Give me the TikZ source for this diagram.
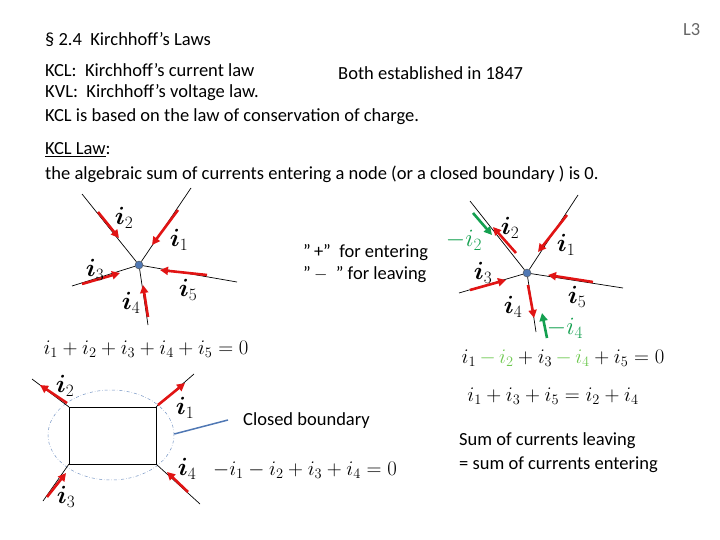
\documentclass[tikz,border=0pt]{standalone}
\usepackage{amsmath,amssymb}
\usepackage{fontspec}
\setmainfont{Carlito}
\usetikzlibrary{arrows.meta,shapes.geometric}
\definecolor{arrred}{RGB}{225,20,20}
\definecolor{arrgreen}{RGB}{20,160,80}
\definecolor{eqgreen}{RGB}{110,200,80}
\definecolor{dotblue}{RGB}{80,120,180}
\tikzset{
  wire/.style={black,line width=0.7pt},
  cur/.style={arrred,line width=2.6pt,-{Triangle[length=8pt,width=8pt]}},
  gcur/.style={arrgreen,line width=2.6pt,-{Triangle[length=8pt,width=8pt]}},
  lbl/.style={font=\fontsize{23}{23}\selectfont,inner sep=0pt},
  txt/.style={font=\fontsize{18.5}{20}\selectfont,anchor=west,inner sep=0pt},
  eq/.style={font=\fontsize{19.5}{20}\selectfont,inner sep=0pt},
  junc/.style={circle,fill=dotblue,draw=black!70,line width=0.4pt,inner sep=0pt,minimum size=8pt}
}
\newcommand{\bi}{\boldsymbol{i}}
\begin{document}
\begin{tikzpicture}[x=1pt,y=-1pt]
\useasboundingbox (0,0) rectangle (720,540);
% header
\node[txt] (title) at (45,40) {§ 2.4\ \ Kirchhoff’s Laws};
\node[txt,text=black!60] (pg) at (683,30) {L3};
\node[txt] (t1) at (45,70) {KCL:\ \ Kirchhoff’s current law};
\node[txt] (t2) at (338,73) {Both established in 1847};
\node[txt] (t3) at (45,93) {KVL:\ \ Kirchhoff’s voltage law.};
\node[txt] (t4) at (45,117) {KCL is based on the law of conservation of charge.};
\node[txt] (t5) at (45,150) {\underline{KCL Law}:};
\node[txt] (t6) at (45,174) {the algebraic sum of currents entering a node (or a closed boundary ) is 0.};
% left node
\coordinate (La) at (82,194); \coordinate (Lb) at (191,188); \coordinate (Lc) at (72,286);
\coordinate (Ld) at (237,282); \coordinate (Le) at (148,325);
\node[junc] (L) at (139,265) {};
\foreach \p in {La,Lb,Lc,Ld,Le} \draw[wire] (L) -- (\p);
\coordinate (l2s) at (98,212); \coordinate (l2e) at (119,238);
\coordinate (l1s) at (178,210); \coordinate (l1e) at (152,245);
\coordinate (l3s) at (82,284); \coordinate (l3e) at (120,273);
\coordinate (l5s) at (207,275); \coordinate (l5e) at (160,270);
\coordinate (l4s) at (148,317); \coordinate (l4e) at (143,285);
\draw[cur] (l2s) -- (l2e); \draw[cur] (l1s) -- (l1e); \draw[cur] (l3s) -- (l3e);
\draw[cur] (l5s) -- (l5e); \draw[cur] (l4s) -- (l4e);
\node[lbl] (Li2) at (124,218) {$\bi_2$};
\node[lbl] (Li1) at (179,240) {$\bi_1$};
\node[lbl] (Li3) at (95,270) {$\bi_3$};
\node[lbl] (Li5) at (188,290) {$\bi_5$};
\node[lbl] (Li4) at (131,303) {$\bi_4$};
\node[eq] (Leq) at (146,349) {$i_1+i_2+i_3+i_4+i_5=0$};
\node[txt] (s1) at (303,253) {"\,+"\ \ for entering};
\node[txt] (s2) at (303,275) {"\,$-$\ \ " for leaving};
% right node
\coordinate (Ra) at (470,201); \coordinate (Rb) at (578,195); \coordinate (Rc) at (459,293);
\coordinate (Rd) at (623,288); \coordinate (Re) at (536,332);
\node[junc] (R) at (527,273) {};
\foreach \p in {Ra,Rb,Rc,Rd,Re} \draw[wire] (R) -- (\p);
\coordinate (r2s) at (516,253); \coordinate (r2e) at (493,227);
\coordinate (r1s) at (567,215); \coordinate (r1e) at (538,252);
\coordinate (r3s) at (470,290); \coordinate (r3e) at (506,280);
\coordinate (r5s) at (593,282); \coordinate (r5e) at (548,275);
\coordinate (r4s) at (528,285); \coordinate (r4e) at (534,318);
\coordinate (g2s) at (473,213); \coordinate (g2e) at (492,235);
\coordinate (g4s) at (547,338); \coordinate (g4e) at (542,313);
\draw[cur] (r2s) -- (r2e); \draw[cur] (r1s) -- (r1e); \draw[cur] (r3s) -- (r3e);
\draw[cur] (r5s) -- (r5e); \draw[cur] (r4s) -- (r4e);
\draw[gcur] (g2s) -- (g2e); \draw[gcur] (g4s) -- (g4e);
\node[lbl] (Ri2) at (510,228) {$\bi_2$};
\node[lbl,text=arrgreen] (Rg2) at (464,240) {$-i_2$};
\node[lbl] (Ri1) at (566,245) {$\bi_1$};
\node[lbl] (Ri3) at (483,273) {$\bi_3$};
\node[lbl] (Ri5) at (577,297) {$\bi_5$};
\node[lbl] (Ri4) at (513,307) {$\bi_4$};
\node[lbl,text=arrgreen] (Rg4) at (565,328) {$-i_4$};
\node[eq] (Req1) at (563,358) {$i_1\,\textcolor{eqgreen}{-\,i_2}+i_3\,\textcolor{eqgreen}{-\,i_4}+i_5=0$};
\node[eq] (Req2) at (553,396) {$i_1+i_3+i_5=i_2+i_4$};
% closed boundary
\coordinate (B1) at (69,407); \coordinate (B2) at (156,407);
\coordinate (B3) at (156,464); \coordinate (B4) at (69,464);
\draw[wire] (B1) -- (B2) -- (B3) -- (B4) -- cycle;
\node[draw=dotblue!80,dash dot,line width=0.5pt,ellipse,minimum width=126pt,minimum height=90pt,inner sep=0pt] (E) at (111,435) {};
\coordinate (Ba) at (32,379); \coordinate (Bb) at (194,374); \coordinate (Bc) at (43,501); \coordinate (Bd) at (200,504);
\draw[wire] (B1) -- (Ba); \draw[wire] (B2) -- (Bb); \draw[wire] (B4) -- (Bc); \draw[wire] (B3) -- (Bd);
\coordinate (b2s) at (67,403); \coordinate (b2e) at (40,385);
\coordinate (b1s) at (158,405); \coordinate (b1e) at (185,383);
\coordinate (b3s) at (47,497); \coordinate (b3e) at (66,473);
\coordinate (b4s) at (188,492); \coordinate (b4e) at (167,472);
\draw[cur] (b2s) -- (b2e); \draw[cur] (b1s) -- (b1e); \draw[cur] (b3s) -- (b3e); \draw[cur] (b4s) -- (b4e);
\node[lbl] (Bi2) at (65,386) {$\bi_2$};
\node[lbl] (Bi1) at (185,408) {$\bi_1$};
\node[lbl] (Bi3) at (66,497) {$\bi_3$};
\node[lbl] (Bi4) at (187,469) {$\bi_4$};
\node[txt] (cb) at (243,421) {Closed boundary};
\coordinate (pt) at (228,420);
\draw[dotblue,line width=1.5pt] (pt) -- (E.east |- 0,434);
\node[eq] (Beq) at (305,470) {$-i_1-i_2+i_3+i_4=0$};
\node[txt] (sm1) at (459,441) {Sum of currents leaving};
\node[txt] (sm2) at (459,465) {= sum of currents entering};
\end{tikzpicture}
\end{document}
